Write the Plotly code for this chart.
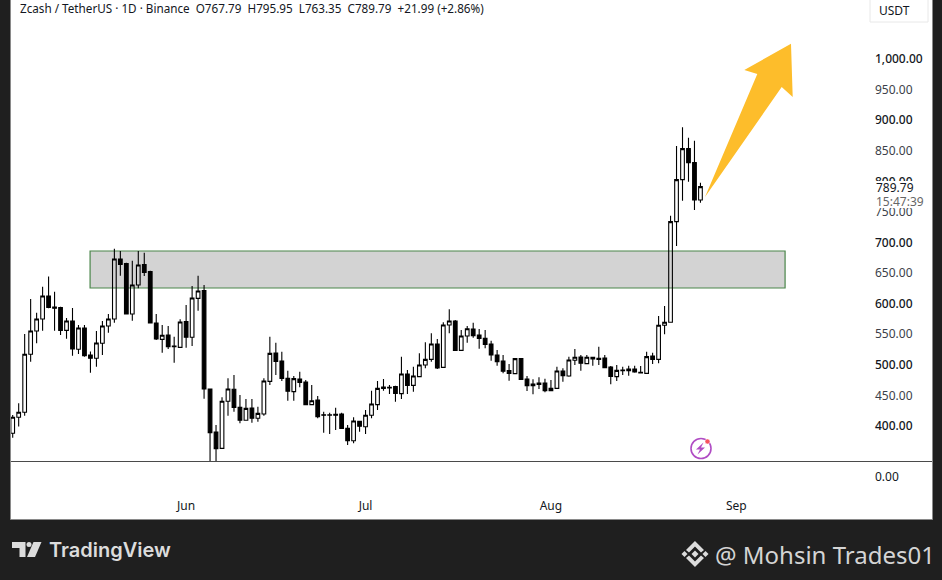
import pandas as pd
import plotly.graph_objects as go

FIG_W = 942
FIG_H = 580

# daily candles
dates = pd.date_range("2025-05-03", periods=116, freq="D")
opens = [386.5, 412.6, 420.8, 515.6, 553.7, 573.4, 611, 593, 591.9, 554.8, 570.1, 523.8, 558.6, 514.5, 509.1, 533.6,
         561.9, 573.4, 671.4, 663.8, 581.5, 628.9, 662.2, 650.7, 566.8, 540.1, 547.2, 529.2, 527, 569, 543.4, 607.1,
         619.7, 458.9, 388.6, 361.9, 438.8, 458.4, 428.9, 407.7, 427.9, 411, 418, 471.4, 517.8, 504.7, 476.3, 454.6,
         475.3, 470.4, 433.3, 440.9, 416.9, 415.9, 417.5, 418, 394.6, 374.4, 406, 397.3, 415.9, 433.3, 462.2, 460.5,
         462.7, 451.3, 483.4, 464.9, 479.1, 498.1, 507.4, 532.5, 494.3, 563.5, 570.1, 522.1, 545.6, 557, 547.2, 541.7,
         532.5, 514.5, 504.7, 488.9, 484, 508.5, 475.3, 467, 468.7, 468.7, 456.2, 460, 488.3, 480.2, 505.8, 511.2,
         500.3, 510.7, 509, 509.6, 494.9, 479.1, 488.9, 491.6, 491.6, 486.2, 484.5, 512.9, 507.4, 563, 567.9, 732.5,
         801.1, 851.8, 828.9, 767.79]
highs = [416.4, 435.5, 548.8, 606.1, 583.7, 626.2, 642.6, 618, 593.5, 575, 591.3, 563.5, 563.5, 520, 553.7, 570.1,
         581.5, 688.3, 684.5, 665.4, 668.7, 684.5, 681.8, 652.4, 581.5, 563.5, 561.9, 544.5, 572.8, 596.2, 627.3, 644.2,
         628.9, 458.9, 400.1, 445.3, 476.4, 481.8, 449.1, 442.6, 442.6, 430, 476.3, 544.5, 534.7, 519.9, 488.9, 480.2,
         487.2, 473.6, 465.4, 447.5, 421.9, 420.2, 428.4, 420.2, 400, 412.6, 406, 424.6, 456.2, 472, 475.3, 465.4,
         464.4, 511.8, 490, 495.4, 517.2, 535.2, 549.9, 540.6, 567.9, 589.1, 571.7, 555.4, 561.9, 567.3, 557, 555.4,
         537.9, 522.7, 514.5, 499.8, 509, 509, 480.2, 474.7, 478, 475.8, 473.6, 495.4, 492.7, 511.8, 524.3, 514.5,
         514.5, 511, 528.1, 514.5, 496.5, 498.1, 495.4, 497.1, 497.1, 496.5, 519.9, 518.3, 578.2, 594.6, 742.3, 856.2,
         886.7, 869.8, 864.9, 795.95]
lows = [379.4, 397.4, 415.3, 503.6, 533.6, 554.3, 590.8, 554.3, 547.2, 541.2, 513.4, 516.1, 511.8, 485.6, 495.4, 514.5,
        551, 567.4, 644.2, 581.5, 570.6, 623.5, 643.7, 566.8, 539, 518.3, 524.3, 502, 527, 526.5, 529.2, 587,
        443.1, 335, 338, 361.4, 415.3, 421.9, 402.8, 407.1, 403.9, 405.5, 415.3, 465.4, 481.8, 472, 439.8, 439.8,
        461.6, 432.2, 432.8, 411, 387.5, 385.3, 391.9, 393.5, 367.4, 370.1, 389.2, 385.3, 411, 424.6, 456.2, 450.7,
        438.2, 442.6, 450.7, 454.6, 478, 492.7, 503.6, 491.6, 493.8, 549.9, 522.1, 522.1, 534.7, 542.8, 524.8, 525.4,
        505.2, 497.1, 484.5, 472.5, 484, 474.7, 455.6, 450.2, 458.9, 453.5, 456.2, 460, 470.9, 479.1, 498.1, 488.9,
        499.8, 497.1, 498.1, 493.8, 466.5, 472, 481.8, 480.7, 485.6, 484.5, 484.5, 499.8, 500.9, 548.3, 567.9, 692.7,
        766.8, 797.8, 751.5, 763.35]
closes = [412.6, 420.8, 515.6, 553.7, 573.4, 611, 592.4, 590.8, 554.8, 570.1, 524.3, 558.6, 513.4, 509.1, 534.1, 561.9,
          573.4, 671.4, 662.7, 581.5, 628.9, 661.6, 649.6, 566.8, 540.7, 546.7, 528.1, 528.1, 568.5, 543.4, 607.7, 619.1,
          458.9, 387.5, 361.4, 438.8, 458.9, 428.9, 407.7, 427.3, 411, 419.1, 472, 517.2, 504.1, 476.3, 455.1, 475.8,
          469.8, 433.3, 439.8, 413.7, 415.9, 416.9, 415.9, 394.6, 374.4, 406.6, 397.9, 415.9, 434.4, 460, 460, 461.6,
          451.8, 483.4, 464.9, 480.2, 498.1, 507.4, 532.5, 493.2, 563.5, 570.1, 522.1, 545.6, 557.5, 546.1, 541.7, 531.9,
          514.5, 503.6, 487.8, 484.5, 508.5, 474.7, 464.4, 464.4, 466.5, 456.2, 460, 488.3, 480.7, 506.3, 510.7, 500.9,
          510.7, 507.9, 507.4, 493.8, 479.6, 489.4, 490, 488.9, 486.7, 485.1, 511.8, 507.4, 563, 567.9, 732.5, 801.1,
          851.8, 828.9, 767.79, 789.79]

price_ticks = [400, 450, 500, 550, 600, 650, 700, 750, 800, 850, 900, 950, 1000]
month_ticks = ["2025-06-01", "2025-07-01", "2025-08-01", "2025-09-01"]
month_labels = ["Jun", "Jul", "Aug", "Sep"]

DARK = "#1f1f1f"
INK = "#131722"
SOFT_INK = "#3c3f4a"
FONT = "Noto Sans"
ARROW_YELLOW = "#fdbd2b"
LOGO_GREY = "#dcdcdc"


def px_x(x):
    return x / FIG_W


def px_y(y):
    return 1 - y / FIG_H


def paper_path(points):
    """SVG path in paper coordinates from screenshot pixels."""
    parts = [f"{px_x(x):.5f},{px_y(y):.5f}" for x, y in points]
    return "M" + " L".join(parts) + " Z"


def poly(points, color):
    return dict(type="path", xref="paper", yref="paper", fillcolor=color, line=dict(width=0), path=paper_path(points))


def label(text, x, y, size, color=INK, weight=None, family=FONT):
    font = dict(size=size, color=color, family=family)
    if weight:
        font["weight"] = weight
    return dict(text=text, x=px_x(x), y=px_y(y), xref="paper", yref="paper", showarrow=False,
                xanchor="left", yanchor="middle", font=font, borderpad=0)


def price_label(value):
    # round hundreds are drawn heavier on the TradingView scale
    if value % 100 == 0:
        return f'<span style="font-weight:500">{value:,.2f}</span>'
    return f'<span style="fill:{SOFT_INK}">{value:,.2f}</span>'


fig = go.Figure()
fig.add_trace(go.Candlestick(
    x=dates, open=opens, high=highs, low=lows, close=closes,
    increasing=dict(line=dict(color="#000000", width=1.1), fillcolor="rgba(0,0,0,0)"),
    decreasing=dict(line=dict(color="#000000", width=1.1), fillcolor="#000000"),
    whiskerwidth=0, hoverinfo="skip", showlegend=False,
))
# empty lower pane, only there for its 0.00 scale
fig.add_trace(go.Scatter(x=dates[:2], y=[0, 0], yaxis="y2", mode="lines", line=dict(width=0),
                         hoverinfo="skip", showlegend=False))

shapes = [
    # white chart panel with its thin border
    dict(type="rect", xref="paper", yref="paper", x0=px_x(10.5), x1=px_x(932.5), y0=px_y(519.5), y1=px_y(-2),
         fillcolor="#ffffff", line=dict(color="#8a8a8a", width=1), layer="below"),
    # pane separator
    dict(type="line", xref="paper", yref="paper", x0=px_x(11), x1=px_x(932), y0=px_y(461.5), y1=px_y(461.5),
         line=dict(color="#4a4a4a", width=1)),
    # supply zone
    dict(type="rect", xref="x", yref="y", x0="2025-05-15 22:33", x1="2025-09-09 03:36", y0=624, y1=684.5,
         fillcolor="#d3d3d3", line=dict(color="#4a864a", width=1.2), layer="below"),
    # arrow
    poly([(705, 197), (757.3, 74), (744.3, 70), (791, 43.7), (792.7, 97), (781.7, 87)], ARROW_YELLOW),
    # USDT box
    dict(type="rect", xref="paper", yref="paper", x0=px_x(870), x1=px_x(928), y0=px_y(22), y1=px_y(-3),
         fillcolor="#ffffff", line=dict(color="#e8e8e8", width=1)),
    # live price tag hides the 800 and 750 labels behind it
    dict(type="rect", xref="paper", yref="paper", x0=px_x(874), x1=px_x(926), y0=px_y(208), y1=px_y(181),
         fillcolor="#ffffff", line=dict(width=0)),
    # news icon
    dict(type="circle", xref="paper", yref="paper", x0=px_x(691), x1=px_x(711), y0=px_y(458.5), y1=px_y(438.5),
         line=dict(color="#b04cc4", width=1.6)),
    poly([(703.5, 442.5), (696, 449.5), (700, 449.5), (697.5, 454.5), (705, 447.5), (701, 447.5)], "#b04cc4"),
    dict(type="circle", xref="paper", yref="paper", x0=px_x(705), x1=px_x(710), y0=px_y(444), y1=px_y(439),
         fillcolor="#f7525f", line=dict(color="#ffffff", width=0.5)),
    # TradingView mark
    poly([(12, 542), (25.5, 542), (25.5, 557), (19.5, 557), (19.5, 548), (12, 548)], LOGO_GREY),
    dict(type="circle", xref="paper", yref="paper", x0=px_x(26.5), x1=px_x(31.5), y0=px_y(547), y1=px_y(542),
         fillcolor=LOGO_GREY, line=dict(width=0)),
    poly([(33.5, 542), (41.5, 542), (35, 557), (27, 557)], LOGO_GREY),
    # Binance mark
    poly([(695, 541), (704, 550), (701, 552.5), (695, 546.5), (689, 552.5), (686, 550)], LOGO_GREY),
    poly([(695, 567), (704, 558), (701, 555.5), (695, 561.5), (689, 555.5), (686, 558)], LOGO_GREY),
    poly([(681.5, 554), (684.5, 551), (687.5, 554), (684.5, 557)], LOGO_GREY),
    poly([(702.5, 554), (705.5, 551), (708.5, 554), (705.5, 557)], LOGO_GREY),
    poly([(695, 550.5), (698.5, 554), (695, 557.5), (691.5, 554)], LOGO_GREY),
]

annotations = [
    label("Zcash / TetherUS · 1D · Binance  O767.79  H795.95  L763.35  C789.79  +21.99 (+2.86%)", 18.5, 8, 11.7),
    label("USDT", 877.5, 11, 12),
    label("789.79", 875, 187.5, 12),
    label("15:47:39", 875, 201.5, 12, color="#666666"),
    label("TradingView", 47.5, 550, 20, color=LOGO_GREY, weight=600, family="Inter"),
    label("@ Mohsin Trades01", 714, 554, 24, color="#d4d4d4"),
]

fig.update_layout(
    width=FIG_W, height=FIG_H,
    margin=dict(l=0, r=0, t=0, b=0),
    paper_bgcolor=DARK, plot_bgcolor="rgba(0,0,0,0)",
    font=dict(family=FONT, size=12, color=INK),
    showlegend=False,
    boxgap=0.12,
    shapes=shapes, annotations=annotations,
    xaxis=dict(
        domain=[px_x(11), px_x(870)], anchor="y2", type="date",
        range=["2025-05-02 17:11", "2025-09-23 08:24"],
        rangeslider=dict(visible=False),
        tickvals=month_ticks, ticktext=month_labels, ticks="outside", ticklen=5, tickcolor="#ffffff",
        showgrid=False, zeroline=False, showline=False, tickfont=dict(size=12, color=INK),
    ),
    yaxis=dict(
        domain=[px_y(461), 1], anchor="x", side="right", range=[341.2, 1094.8],
        tickvals=price_ticks, ticktext=[price_label(v) for v in price_ticks],
        showgrid=False, zeroline=False, showline=False, ticks="", ticklabelstandoff=4, ticklabelshift=1,
        tickfont=dict(size=12, color=INK),
    ),
    yaxis2=dict(
        domain=[px_y(490), px_y(461)], anchor="x", side="right", range=[-14, 15],
        tickvals=[0], ticktext=["0.00"],
        showgrid=False, zeroline=False, showline=False, ticks="", ticklabelstandoff=4, ticklabelshift=1,
        tickfont=dict(size=12, color=INK),
    ),
)

fig.write_html("out.html", config={"displayModeBar": False},
               post_script="document.body.style.margin='0';document.body.style.overflow='hidden';")
